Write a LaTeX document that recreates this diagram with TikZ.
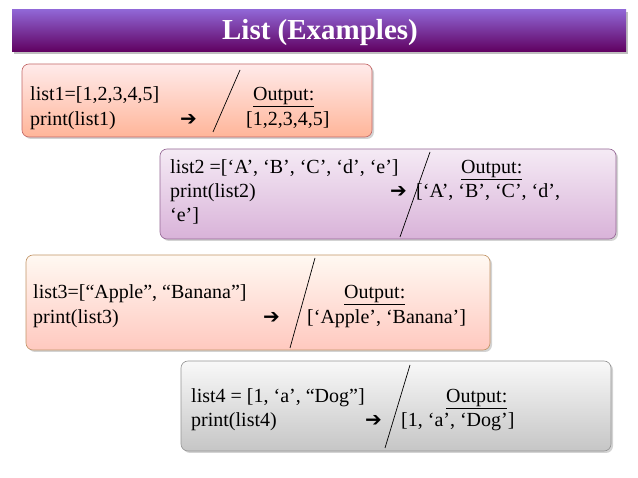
\documentclass[tikz,border=0pt]{standalone}
\usepackage{fontspec}
\setmainfont{Liberation Serif}
\newfontfamily\symf{DejaVu Sans}
\usetikzlibrary{shadows}
\begin{document}
\begin{tikzpicture}[x=1pt,y=-1pt,
  box/.style={draw=#1!60!black!60, rounded corners=7pt, line width=0.6pt, drop shadow={shadow xshift=2pt,shadow yshift=-2pt,opacity=0.35}},
  txt/.style={anchor=base west, inner sep=0pt, font=\fontsize{20}{23}\selectfont},
  arr/.style={anchor=base west, inner sep=0pt, font=\symf\bfseries\fontsize{20}{23}\selectfont},
  slash/.style={draw=black, line width=0.7pt}]
\useasboundingbox (0,0) rectangle (638,478);
\shade[top color=violet!55!blue!60, bottom color=violet!75!black, drop shadow] (12,10) rectangle (626,52);
\node (title) at (320,33) {\color{white}\bfseries\fontsize{29}{32}\selectfont List (Examples)};
% box1
\shade[box=red, top color=red!8, bottom color=red!45!orange!40] (22,64) rectangle (372,137);
\node[txt] (a1) at (30,101) {list1=[1,2,3,4,5]};
\node[txt] (a2) at (30,126) {print(list1)};
\node[arr] (a3) at (180,126) {➔};
\node[txt] (a4) at (253,101) {\underline{Output:}};
\node[txt] (a5) at (246,126) {[1,2,3,4,5]};
\draw[slash] (213,132) -- (240,70);
% box2
\shade[box=violet, top color=violet!8, bottom color=violet!30] (160,149) rectangle (616,239);
\node[txt] (b1) at (170,174) {list2 =[‘A’, ‘B’, ‘C’, ‘d’, ‘e’]};
\node[txt] (b2) at (170,198) {print(list2)};
\node[txt] (b3) at (170,222) {‘e’]};
\node[arr] (b4) at (390,198) {➔};
\node[txt] (b5) at (461,174) {\underline{Output:}};
\node[txt] (b6) at (416,198) {[‘A’, ‘B’, ‘C’, ‘d’,};
\draw[slash] (400,237) -- (430,152);
% box3
\shade[box=orange, top color=orange!5, bottom color=orange!30!red!25] (26,255) rectangle (490,350);
\node[txt] (c1) at (33,299) {list3=[“Apple”, “Banana”]};
\node[txt] (c2) at (33,324) {print(list3)};
\node[arr] (c3) at (263,324) {➔};
\node[txt] (c4) at (344,299) {\underline{Output:}};
\node[txt] (c5) at (307,324) {[‘Apple’, ‘Banana’]};
\draw[slash] (290,348) -- (315,258);
% box4
\shade[box=gray, top color=gray!5, bottom color=gray!45] (181,361) rectangle (611,451);
\node[txt] (d1) at (191,403) {list4 = [1, ‘a’, “Dog”]};
\node[txt] (d2) at (191,427) {print(list4)};
\node[arr] (d3) at (365,427) {➔};
\node[txt] (d4) at (446,403) {\underline{Output:}};
\node[txt] (d5) at (401,427) {[1, ‘a’, ‘Dog’]};
\draw[slash] (385,448) -- (410,365);
\end{tikzpicture}
\end{document}
